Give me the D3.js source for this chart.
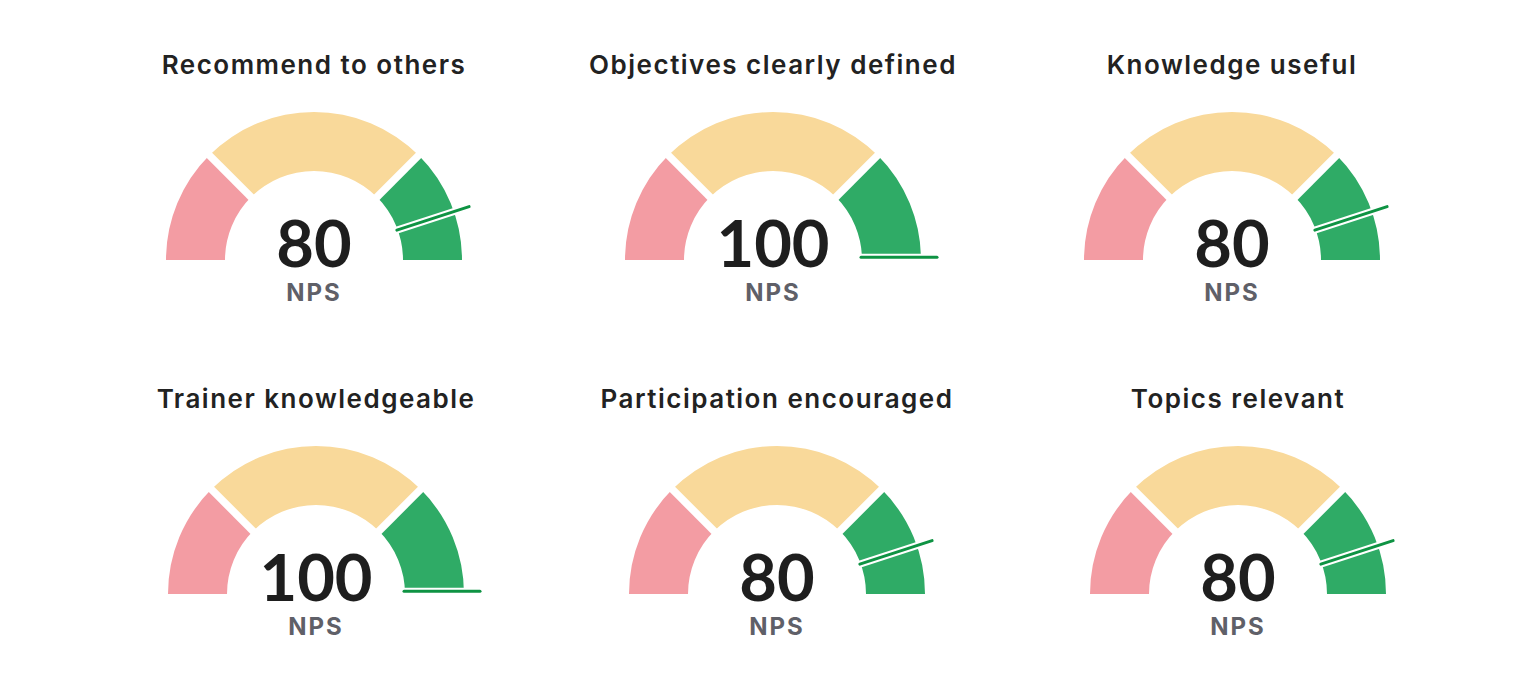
<!DOCTYPE html>
<html>
<head>
<meta charset="utf-8">
<script src="https://cdn.jsdelivr.net/npm/d3@7"></script>
<style>
  body { margin: 0; background: #fff; }
  svg { display: block; }
</style>
</head>
<body>
<div id="chart"></div>
<script>
// Chart data
var titles = ["Recommend to others", "Objectives clearly defined", "Knowledge useful",
              "Trainer knowledgeable", "Participation encouraged", "Topics relevant"];
var npsValues = [80, 100, 80, 100, 80, 80];

// gauge bands (NPS ranges) and their colours
var bandStarts = [-100, -50, 50];
var bandEnds = [-50, 50, 100];
var bandColors = ["#f39ca3", "#f9d99a", "#2fab66"];

// SVG area
var svgWidth = 1536;
var svgHeight = 695;

var svg = d3.select("#chart")
    .append("svg")
    .attr("width", svgWidth)
    .attr("height", svgHeight);

// gauge geometry
var innerR = 89;
var outerR = 148;
var needleIn = 88;
var needleOut = 164;

// NPS value -> angle (radians, 0 = straight up)
var angleScale = d3.scaleLinear()
    .domain([-100, 100])
    .range([-Math.PI / 2, Math.PI / 2]);

var arc = d3.arc()
    .innerRadius(innerR)
    .outerRadius(outerR);

// column centres per row, baseline of the half circles
var colScales = [
    d3.scalePoint().domain([0, 1, 2]).range([314, 1232]),
    d3.scalePoint().domain([0, 1, 2]).range([316, 1238])
];
var rowBase = [260, 594];

titles.forEach(function(title, i) {
    var row = Math.floor(i / 3);
    var col = i % 3;
    var cx = colScales[row](col);
    var cy = rowBase[row];

    var g = svg.append("g")
        .attr("transform", `translate(${cx}, ${cy})`);

    // title
    g.append("text")
        .attr("x", 0)
        .attr("y", -186)
        .attr("text-anchor", "middle")
        .attr("font-family", "Inter, sans-serif")
        .attr("font-weight", 600)
        .attr("font-size", 26)
        .attr("letter-spacing", 1.5)
        .attr("fill", "#222")
        .text(title);

    // colour bands
    g.selectAll("path.band")
        .data(bandStarts)
        .enter()
        .append("path")
        .attr("class", "band")
        .attr("d", (d, k) => arc({ startAngle: angleScale(d), endAngle: angleScale(bandEnds[k]) }))
        .attr("fill", (d, k) => bandColors[k]);

    // white gaps between bands
    g.selectAll("line.gap")
        .data(bandStarts.slice(1))
        .enter()
        .append("line")
        .attr("class", "gap")
        .attr("x1", d => Math.sin(angleScale(d)) * (innerR - 2))
        .attr("y1", d => -Math.cos(angleScale(d)) * (innerR - 2))
        .attr("x2", d => Math.sin(angleScale(d)) * (outerR + 2))
        .attr("y2", d => -Math.cos(angleScale(d)) * (outerR + 2))
        .attr("stroke", "#fff")
        .attr("stroke-width", 7.5);

    // needle, shifted slightly off centre
    var a = angleScale(npsValues[i]);
    var ux = Math.sin(a), uy = -Math.cos(a);
    var ox = -Math.cos(a) * 2.8, oy = -Math.sin(a) * 2.8;
    var needle = [[ux * needleIn + ox, uy * needleIn + oy], [ux * needleOut + ox, uy * needleOut + oy]];

    g.append("path")
        .attr("d", d3.line()(needle))
        .attr("stroke", "#fff")
        .attr("stroke-width", 7)
        .attr("stroke-linecap", "butt");
    g.append("path")
        .attr("d", d3.line()(needle))
        .attr("stroke", "#0e9343")
        .attr("stroke-width", 3)
        .attr("stroke-linecap", "round");

    // value
    g.append("text")
        .attr("x", 0)
        .attr("y", 6.5)
        .attr("text-anchor", "middle")
        .attr("font-family", "Lato, sans-serif")
        .attr("font-weight", 700)
        .attr("font-size", 65)
        .attr("fill", "#1e1e1e")
        .text(npsValues[i]);

    g.append("text")
        .attr("x", 0)
        .attr("y", 40.5)
        .attr("text-anchor", "middle")
        .attr("font-family", "Inter, sans-serif")
        .attr("font-weight", 700)
        .attr("font-size", 24)
        .attr("letter-spacing", 2)
        .attr("fill", "#5f6068")
        .text("NPS");
});
</script>
</body>
</html>
